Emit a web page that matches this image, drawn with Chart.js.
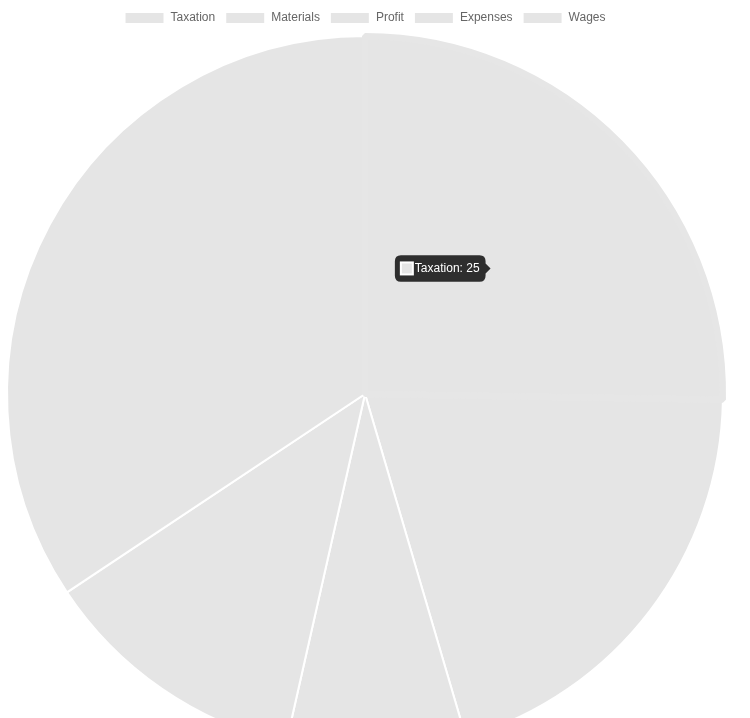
<!DOCTYPE html>
<html>
<head>
<meta charset="utf-8">
<title>Cost breakdown</title>
<script src="https://cdn.jsdelivr.net/npm/chart.js@4.4.1/dist/chart.umd.min.js"></script>
<style>
    html, body { margin: 0; padding: 0; overflow: hidden; background: #fff; }
    #wrap { position: relative; width: 730px; height: 754px; }
</style>
</head>
<body>
<div id="wrap"><canvas id="pieChart"></canvas></div>
<script>
// chart data
const categories = ['Taxation', 'Materials', 'Profit', 'Expenses', 'Wages'];
const amounts = [25, 20, 8, 12, 34];
const hoveredIndex = 0;

let pieChart;

document.addEventListener('DOMContentLoaded', () => {
    initChart();
});

function initChart() {
    const ctx = document.getElementById('pieChart').getContext('2d');
    pieChart = new Chart(ctx, {
        type: 'pie',
        data: {
            labels: categories,
            datasets: [{
                data: amounts,
                backgroundColor: 'rgba(0, 0, 0, 0.1)',
                borderColor: '#fff',
                borderWidth: 2,
                hoverBackgroundColor: 'rgba(0, 0, 0, 0.1)',
                hoverBorderColor: '#e6e6e6',
                hoverBorderWidth: 6
            }]
        },
        options: {
            responsive: true,
            maintainAspectRatio: false,
            animation: false,
            radius: 358,
            layout: { padding: { top: 2 } },
            plugins: {
                legend: {
                    position: 'top',
                    labels: { color: '#666', font: { size: 12 } }
                },
                tooltip: {
                    enabled: true,
                    backgroundColor: 'rgba(0, 0, 0, 0.8)',
                    bodyFont: { size: 12 },
                    callbacks: {
                        title: () => '',
                        label: (item) => `${item.label}: ${item.formattedValue}`
                    }
                }
            }
        }
    });

    // show the hovered state of the first slice
    const active = [{ datasetIndex: 0, index: hoveredIndex }];
    pieChart.setActiveElements(active);
    pieChart.tooltip.setActiveElements(active, { x: 0, y: 0 });
    pieChart.update('none');
}
</script>
</body>
</html>
